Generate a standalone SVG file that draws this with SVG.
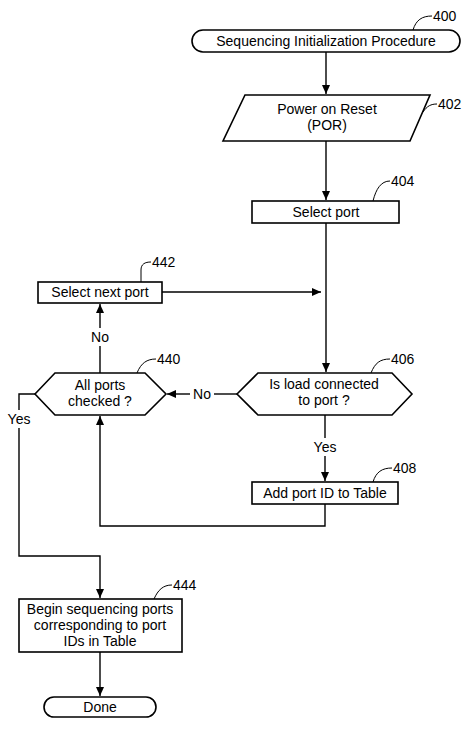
<svg xmlns="http://www.w3.org/2000/svg" width="474" height="736" viewBox="0 0 474 736">
<defs>
<marker id="ah" markerWidth="10" markerHeight="10" refX="9" refY="5" orient="auto" markerUnits="userSpaceOnUse">
<path d="M0,1 L9,5 L0,9 Z" fill="#000"/>
</marker>
</defs>
<style>
.s{fill:#fff;stroke:#000;stroke-width:1.6}
.t{font-family:"Liberation Sans",Arial,sans-serif;font-size:14px;fill:#000;text-anchor:middle}
.l{font-family:"Liberation Sans",Arial,sans-serif;font-size:14px;fill:#000;text-anchor:start}
.c{fill:none;stroke:#000;stroke-width:1.4}
.ld{fill:none;stroke:#000;stroke-width:1}
</style>
<rect width="474" height="736" fill="#fff"/>
<g id="connectors">
<path class="c" d="M326,52 V94" marker-end="url(#ah)"/>
<path class="c" d="M326,141 V200" marker-end="url(#ah)"/>
<path class="c" d="M326,223 V372" marker-end="url(#ah)"/>
<path class="c" d="M162,292 H321" marker-end="url(#ah)"/>
<path class="c" d="M325,415 V438"/>
<path class="c" d="M325,456 V481" marker-end="url(#ah)"/>
<path class="c" d="M237,394 H214"/>
<path class="c" d="M190,394 H167" marker-end="url(#ah)"/>
<path class="c" d="M325,504 V526 H100 V416" marker-end="url(#ah)"/>
<path class="c" d="M100,373 V346"/>
<path class="c" d="M100,328 V304" marker-end="url(#ah)"/>
<path class="c" d="M35,394 H19 V410"/>
<path class="c" d="M19,428 V556 H100 V598" marker-end="url(#ah)"/>
<path class="c" d="M100,652 V696" marker-end="url(#ah)"/>
<text class="t" x="202" y="399">No</text>
<text class="t" x="100" y="342">No</text>
<text class="t" x="325" y="452">Yes</text>
<text class="t" x="19" y="424">Yes</text>
</g>
<g id="n400">
<rect class="s" x="192" y="30" width="268" height="22" rx="11"/>
<text class="t" x="326" y="46">Sequencing Initialization Procedure</text>
<path class="ld" d="M413,30 C416,20 422,16 432,16"/>
<text class="l" x="433" y="21">400</text>
</g>
<g id="n402">
<path class="s" d="M245,95 L430,95 L410,141 L223,141 Z"/>
<text class="t" x="327" y="114">Power on Reset</text>
<text class="t" x="327" y="130">(POR)</text>
<path class="ld" d="M423,112 C427,106 431,104 437,104"/>
<text class="l" x="438" y="109">402</text>
</g>
<g id="n404">
<rect class="s" x="252" y="201" width="147" height="22"/>
<text class="t" x="326" y="217">Select port</text>
<path class="ld" d="M373,201 C376,189 381,181 390,181"/>
<text class="l" x="391" y="186">404</text>
</g>
<g id="n406">
<path class="s" d="M237,394 L258,373 L392,373 L412,394 L392,415 L258,415 Z"/>
<text class="t" x="324" y="389">Is load connected</text>
<text class="t" x="324" y="405">to port ?</text>
<path class="ld" d="M371,373 C375,363 380,359 390,359"/>
<text class="l" x="391" y="364">406</text>
</g>
<g id="n408">
<rect class="s" x="252" y="482" width="146" height="22"/>
<text class="t" x="325" y="498">Add port ID to Table</text>
<path class="ld" d="M373,482 C376,472 382,468 392,468"/>
<text class="l" x="393" y="473">408</text>
</g>
<g id="n440">
<path class="s" d="M35,394 L55,373 L145,373 L166,394 L145,415 L55,415 Z"/>
<text class="t" x="100" y="390">All ports</text>
<text class="t" x="100" y="406">checked ?</text>
<path class="ld" d="M137,373 C141,363 147,359 156,359"/>
<text class="l" x="157" y="364">440</text>
</g>
<g id="n442">
<rect class="s" x="38" y="282" width="124" height="21"/>
<text class="t" x="100" y="297">Select next port</text>
<path class="ld" d="M141,282 V270 C141,264 145,262 151,262"/>
<text class="l" x="152" y="267">442</text>
</g>
<g id="n444">
<rect class="s" x="19" y="599" width="163" height="53"/>
<text class="t" x="100" y="614">Begin sequencing ports</text>
<text class="t" x="100" y="630">corresponding to port</text>
<text class="t" x="100" y="646">IDs in Table</text>
<path class="ld" d="M154,599 C158,590 163,585 172,585"/>
<text class="l" x="173" y="590">444</text>
</g>
<g id="n_done">
<rect class="s" x="44" y="697" width="112" height="20" rx="10"/>
<text class="t" x="100" y="712">Done</text>
</g>
</svg>
